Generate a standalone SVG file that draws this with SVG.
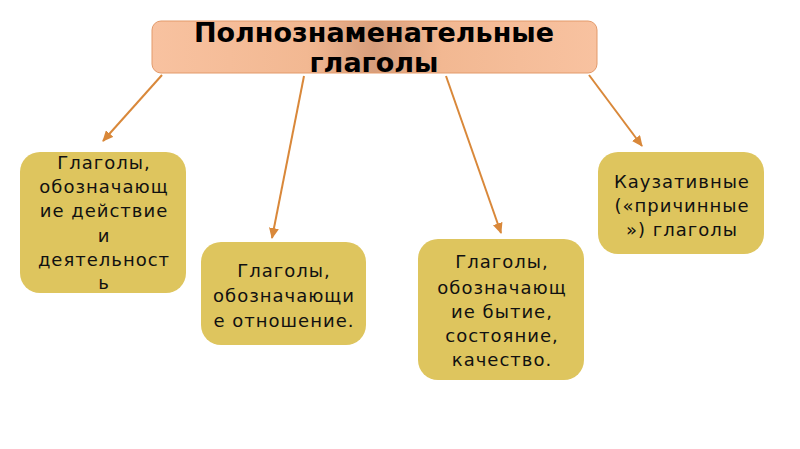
<svg xmlns="http://www.w3.org/2000/svg" width="800" height="449" viewBox="0 0 800 449">
<defs>
<linearGradient id="tg" x1="0" y1="0" x2="1" y2="0">
<stop offset="0" stop-color="#F8C2A0"/>
<stop offset="0.35" stop-color="#F2B892"/>
<stop offset="0.5" stop-color="#D79E7C"/>
<stop offset="0.65" stop-color="#F2B892"/>
<stop offset="1" stop-color="#F8C2A0"/>
</linearGradient>
<marker id="ah" markerWidth="11" markerHeight="10" refX="10" refY="5" orient="auto" markerUnits="userSpaceOnUse">
<path d="M0,0 L11,5 L0,10 Z" fill="#D9883A"/>
</marker>
<style>
.box{fill:#DEC55E;}
.t{font-family:"DejaVu Sans",sans-serif;font-size:18px;fill:#111;text-anchor:middle;letter-spacing:1px;}
.title{font-family:"DejaVu Sans",sans-serif;font-weight:bold;font-size:27px;fill:#000;text-anchor:middle;}
.c{stroke:#D9883A;stroke-width:2;fill:none;marker-end:url(#ah);}
</style>
</defs>
<rect width="800" height="449" fill="#fff"/>
<g id="connectors">
<line class="c" x1="162" y1="75" x2="103" y2="141"/>
<line class="c" x1="304" y1="76" x2="272" y2="238"/>
<line class="c" x1="446" y1="76" x2="501" y2="233"/>
<line class="c" x1="589" y1="75" x2="642" y2="146"/>
</g>
<g id="title">
<rect x="152" y="21" width="445" height="52" rx="9" fill="url(#tg)" stroke="#E39A6A" stroke-width="1"/>
<text class="title" x="374" y="42">Полнознаменательные</text>
<text class="title" x="374" y="72">глаголы</text>
</g>
<g id="n1">
<rect class="box" x="20" y="152" width="166" height="141" rx="20"/>
<text class="t" x="104" y="169">Глаголы,</text>
<text class="t" x="104" y="193">обозначающ</text>
<text class="t" x="104" y="217">ие действие</text>
<text class="t" x="104" y="242">и</text>
<text class="t" x="104" y="266">деятельност</text>
<text class="t" x="104" y="289">ь</text>
</g>
<g id="n2">
<rect class="box" x="201" y="242" width="165" height="103" rx="20"/>
<text class="t" x="284" y="277">Глаголы,</text>
<text class="t" x="284" y="302">обозначающи</text>
<text class="t" x="284" y="327">е отношение.</text>
</g>
<g id="n3">
<rect class="box" x="418" y="239" width="166" height="141" rx="20"/>
<text class="t" x="502" y="268">Глаголы,</text>
<text class="t" x="502" y="294">обозначающ</text>
<text class="t" x="502" y="318">ие бытие,</text>
<text class="t" x="502" y="342">состояние,</text>
<text class="t" x="502" y="366">качество.</text>
</g>
<g id="n4">
<rect class="box" x="598" y="152" width="166" height="102" rx="20"/>
<text class="t" x="682" y="188">Каузативные</text>
<text class="t" x="682" y="212">(«причинные</text>
<text class="t" x="682" y="236">») глаголы</text>
</g>
</svg>
